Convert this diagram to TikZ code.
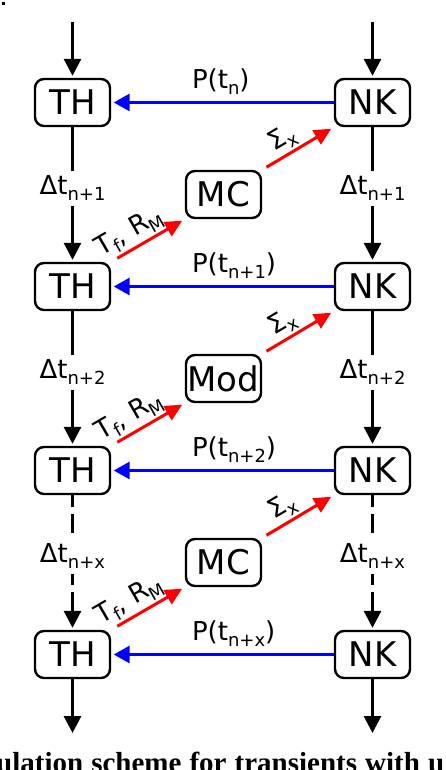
\documentclass[tikz,border=0pt]{standalone}
\usepackage{fontspec}
\setmainfont{DejaVu Sans}
\newfontfamily\capfont{Liberation Serif}
\usepackage{xcolor}
\usepackage{tikz}
\usetikzlibrary{arrows.meta}
\definecolor{fbblue}{HTML}{0000FF}
\definecolor{sigred}{HTML}{FF0000}
\newcommand{\lowidx}[1]{\raisebox{-6pt}{\fontsize{18}{18}\selectfont #1}}
\tikzset{
  blk/.style={draw, line width=2.4pt, rounded corners=9pt, minimum width=75pt, minimum height=47pt, inner sep=0pt, font=\fontsize{34}{36}\selectfont},
  flow/.style={draw, line width=3pt, -{Triangle[length=17pt,width=17pt]}, shorten >=2pt},
  dflow/.style={flow, dash pattern=on 19pt off 7pt, dash phase=7pt},
  fb/.style={draw=fbblue, line width=3pt, -{Triangle[length=16pt,width=17pt]}, shorten >=2.5pt},
  sig/.style={draw=sigred, line width=3pt, -{Triangle[length=17pt,width=16pt]}, shorten >=3pt},
  dtlab/.style={fill=white, inner sep=5pt, pos=0.455, font=\fontsize{26}{28}\selectfont},
  plab/.style={anchor=base west, xshift=-32pt, yshift=14pt, inner sep=0pt, font=\fontsize{26}{28}\selectfont},
  slab/.style={above, sloped, inner sep=2pt, font=\fontsize{26}{28}\selectfont},
  captxt/.style={anchor=base west, inner sep=0pt, font=\capfont\bfseries\fontsize{29}{31}\selectfont}
}
\begin{document}
\begin{tikzpicture}[x=1pt, y=-1pt]
  \useasboundingbox (0,0) rectangle (446,770);
  \fill (2.2,2.2) rectangle (5,5.2); % stray dot

  % TH / NK columns
  \foreach \r/\yy in {0/102.5, 1/286.5, 2/470.5, 3/654.5} {
    \node[blk] (th\r) at (72.5,\yy) {TH};
    \node[blk] (nk\r) at (372.5,\yy) {NK};
  }
  % middle boxes
  \foreach \k/\nm in {0/MC, 1/Mod, 2/MC}
    \node[blk] (mid\k) at (223.5,{194.5+184*\k}) {\nm};

  % entry / exit
  \coordinate (thin) at (72.5,22);
  \coordinate (nkin) at (372.5,22);
  \coordinate (thout) at (72.5,733);
  \coordinate (nkout) at (372.5,733);
  \draw[flow] (thin) -- (th0);
  \draw[flow] (nkin) -- (nk0);
  \draw[flow, shorten >=0pt] (th3) -- (thout);
  \draw[flow, shorten >=0pt] (nk3) -- (nkout);

  % time steps
  \foreach \a/\b/\s/\st in {0/1/n+1/flow, 1/2/n+2/flow, 2/3/n+x/dflow} {
    \draw[\st] (th\a) -- node[dtlab] {Δt\lowidx{\s}} (th\b);
    \draw[\st] (nk\a) -- node[dtlab] {Δt\lowidx{\s}} (nk\b);
  }

  % power feedback
  \foreach \r/\s in {0/n, 1/n+1, 2/n+2, 3/n+x}
    \draw[fb] (nk\r) -- node[plab] {P(t\lowidx{\s})} (th\r);

  % cross sections
  \foreach \k [count=\b] in {0,1,2} {
    \draw[sig, shorten <=7pt] (th\b.north east) -- node[slab, pos=0.36] {T\lowidx{f}, R\lowidx{M}} (mid\k.south west);
    \draw[sig, shorten <=5pt] (mid\k.north east) -- node[slab, pos=0.4] {Σ\lowidx{x}} (nk\k.south west);
  }

  \node[captxt] (cap) at (-4,772) {\makebox[448pt][s]{ulation scheme for transients with u}};
\end{tikzpicture}
\end{document}
